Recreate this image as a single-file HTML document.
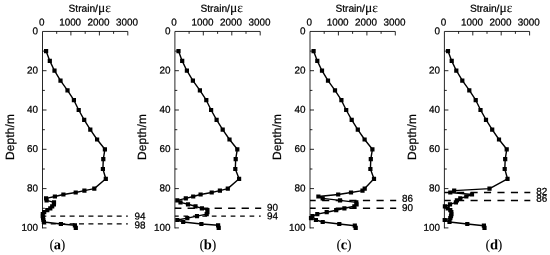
<!DOCTYPE html><html><head><meta charset="utf-8"><title>Strain vs Depth</title><style>
html,body{margin:0;padding:0;background:#fff}svg{display:block}
text{font-family:"Liberation Sans",Arial,sans-serif;fill:#000;text-rendering:geometricPrecision;stroke:#000;stroke-width:0.25px}
.t{font-size:9.9px}.ser{font-family:"Liberation Serif","Times New Roman",serif;stroke:none}
</style></head><body>
<svg width="550" height="255" viewBox="0 0 550 255">
<rect width="550" height="255" fill="#fff"/>
<g id="panel-a">
<line x1="42.50" y1="216.11" x2="127.80" y2="216.11" stroke="#000" stroke-width="1.3" stroke-dasharray="5.0 4.42" stroke-dashoffset="1.18"/>
<text class="t" transform="translate(134.50 219.51) rotate(0.2)">94</text>
<line x1="42.50" y1="223.97" x2="127.80" y2="223.97" stroke="#000" stroke-width="1.3" stroke-dasharray="5.0 4.42" stroke-dashoffset="1.18"/>
<text class="t" transform="translate(134.50 228.37) rotate(0.2)">98</text>
<path d="M42.5 228.4V31.45H127.8" fill="none" stroke="#000" stroke-width="0.85"/>
<path d="M56.7 31.45v2.4M70.9 31.45v4.0M85.2 31.45v2.4M99.4 31.45v4.0M113.6 31.45v2.4M127.8 31.45v4.0M42.5 51.1h2.4M42.5 70.7h4.0M42.5 90.4h2.4M42.5 110.0h4.0M42.5 129.7h2.4M42.5 149.3h4.0M42.5 169.0h2.4M42.5 188.6h4.0M42.5 208.3h2.4M42.5 227.9h4.0" fill="none" stroke="#000" stroke-width="0.85"/>
<text class="t" transform="translate(41.70 25.5) rotate(0.2)" text-anchor="middle">0</text>
<text class="t" transform="translate(70.13 25.5) rotate(0.2)" text-anchor="middle">1000</text>
<text class="t" transform="translate(98.57 25.5) rotate(0.2)" text-anchor="middle">2000</text>
<text class="t" transform="translate(127.00 25.5) rotate(0.2)" text-anchor="middle">3000</text>
<text class="t" transform="translate(38.10 34.25) rotate(0.2)" text-anchor="end">0</text>
<text class="t" transform="translate(38.10 73.54) rotate(0.2)" text-anchor="end">20</text>
<text class="t" transform="translate(38.10 112.83) rotate(0.2)" text-anchor="end">40</text>
<text class="t" transform="translate(38.10 152.12) rotate(0.2)" text-anchor="end">60</text>
<text class="t" transform="translate(38.10 191.41) rotate(0.2)" text-anchor="end">80</text>
<text class="t" transform="translate(38.10 230.70) rotate(0.2)" text-anchor="end">100</text>
<text transform="translate(68.50 11.8) rotate(0.2)" style="font-size:10.2px">Strain/<tspan class="ser" dx="0.1" style="font-size:13.6px;stroke:#000;stroke-width:0.15px">μ</tspan><tspan class="ser" dx="-0.1" style="font-size:13.3px;stroke:#000;stroke-width:0.1px">ε</tspan></text>
<text transform="translate(13.8 160.0) rotate(-90)" style="font-size:11.9px;letter-spacing:0.15px">Depth/m</text>
<polyline points="46.1,51.1 49.8,60.9 54.5,70.7 60.5,80.6 67.5,90.4 73.9,100.2 78.7,110.0 84.2,119.9 90.3,129.7 97.1,139.5 104.9,149.3 103.3,159.1 102.9,169.0 105.8,178.8 94.3,188.6 84.4,190.6 75.7,192.5 63.4,194.5 54.9,196.5 46.1,198.4 46.6,200.4 54.0,202.4 53.9,204.3 52.2,206.3 50.3,208.3 47.3,210.2 44.2,212.2 42.8,214.1 42.7,216.1 43.1,218.1 43.4,220.0 43.9,222.0 60.9,224.0 74.9,225.3 75.8,227.8" fill="none" stroke="#000" stroke-width="1.4" stroke-linejoin="round"/>
<path d="M44.0 49.0h4.2v4.2h-4.2zM47.7 58.8h4.2v4.2h-4.2zM52.4 68.6h4.2v4.2h-4.2zM58.4 78.5h4.2v4.2h-4.2zM65.4 88.3h4.2v4.2h-4.2zM71.8 98.1h4.2v4.2h-4.2zM76.6 107.9h4.2v4.2h-4.2zM82.1 117.8h4.2v4.2h-4.2zM88.2 127.6h4.2v4.2h-4.2zM95.0 137.4h4.2v4.2h-4.2zM102.8 147.2h4.2v4.2h-4.2zM101.2 157.0h4.2v4.2h-4.2zM100.8 166.9h4.2v4.2h-4.2zM103.7 176.7h4.2v4.2h-4.2zM92.2 186.5h4.2v4.2h-4.2zM82.3 188.5h4.2v4.2h-4.2zM73.6 190.4h4.2v4.2h-4.2zM61.3 192.4h4.2v4.2h-4.2zM52.8 194.4h4.2v4.2h-4.2zM44.0 196.3h4.2v4.2h-4.2zM44.5 198.3h4.2v4.2h-4.2zM51.9 200.3h4.2v4.2h-4.2zM51.8 202.2h4.2v4.2h-4.2zM50.1 204.2h4.2v4.2h-4.2zM48.2 206.2h4.2v4.2h-4.2zM45.2 208.1h4.2v4.2h-4.2zM42.1 210.1h4.2v4.2h-4.2zM40.7 212.0h4.2v4.2h-4.2zM40.6 214.0h4.2v4.2h-4.2zM41.0 216.0h4.2v4.2h-4.2zM41.3 217.9h4.2v4.2h-4.2zM41.8 219.9h4.2v4.2h-4.2zM58.8 221.9h4.2v4.2h-4.2zM72.8 223.2h4.2v4.2h-4.2zM73.7 225.7h4.2v4.2h-4.2z" fill="#000"/>
<text class="ser" transform="translate(57.20 249.2) rotate(0.2)" text-anchor="middle" style="font-size:14.5px;letter-spacing:-0.5px">(<tspan font-weight="bold">a</tspan>)</text>
</g>
<g id="panel-b">
<line x1="174.90" y1="208.25" x2="261.20" y2="208.25" stroke="#000" stroke-width="1.5" stroke-dasharray="7.3 6.20" stroke-dashoffset="0.80"/>
<text class="t" transform="translate(266.90 210.75) rotate(0.2)">90</text>
<line x1="174.90" y1="216.11" x2="260.70" y2="216.11" stroke="#000" stroke-width="1.3" stroke-dasharray="4.7 4.74" stroke-dashoffset="0.86"/>
<text class="t" transform="translate(266.90 219.31) rotate(0.2)">94</text>
<path d="M174.9 228.4V31.45H260.2" fill="none" stroke="#000" stroke-width="0.85"/>
<path d="M189.1 31.45v2.4M203.3 31.45v4.0M217.6 31.45v2.4M231.8 31.45v4.0M246.0 31.45v2.4M260.2 31.45v4.0M174.9 51.1h2.4M174.9 70.7h4.0M174.9 90.4h2.4M174.9 110.0h4.0M174.9 129.7h2.4M174.9 149.3h4.0M174.9 169.0h2.4M174.9 188.6h4.0M174.9 208.3h2.4M174.9 227.9h4.0" fill="none" stroke="#000" stroke-width="0.85"/>
<text class="t" transform="translate(174.10 25.5) rotate(0.2)" text-anchor="middle">0</text>
<text class="t" transform="translate(202.53 25.5) rotate(0.2)" text-anchor="middle">1000</text>
<text class="t" transform="translate(230.97 25.5) rotate(0.2)" text-anchor="middle">2000</text>
<text class="t" transform="translate(259.40 25.5) rotate(0.2)" text-anchor="middle">3000</text>
<text class="t" transform="translate(170.50 34.25) rotate(0.2)" text-anchor="end">0</text>
<text class="t" transform="translate(170.50 73.54) rotate(0.2)" text-anchor="end">20</text>
<text class="t" transform="translate(170.50 112.83) rotate(0.2)" text-anchor="end">40</text>
<text class="t" transform="translate(170.50 152.12) rotate(0.2)" text-anchor="end">60</text>
<text class="t" transform="translate(170.50 191.41) rotate(0.2)" text-anchor="end">80</text>
<text class="t" transform="translate(170.50 230.70) rotate(0.2)" text-anchor="end">100</text>
<text transform="translate(200.45 11.8) rotate(0.2)" style="font-size:10.2px">Strain/<tspan class="ser" dx="0.1" style="font-size:13.6px;stroke:#000;stroke-width:0.15px">μ</tspan><tspan class="ser" dx="-0.1" style="font-size:13.3px;stroke:#000;stroke-width:0.1px">ε</tspan></text>
<text transform="translate(146.2 160.0) rotate(-90)" style="font-size:11.9px;letter-spacing:0.15px">Depth/m</text>
<polyline points="178.5,51.1 182.2,60.9 186.9,70.7 192.9,80.6 199.9,90.4 206.3,100.2 211.1,110.0 216.6,119.9 222.7,129.7 229.5,139.5 237.3,149.3 235.7,159.1 235.3,169.0 239.1,178.8 227.8,188.6 219.9,190.6 211.7,192.5 200.6,194.5 193.2,196.5 185.8,198.4 177.3,200.4 180.5,202.4 188.0,204.3 195.5,206.3 201.9,208.3 207.4,210.2 207.4,212.2 206.7,214.1 197.0,216.1 187.3,218.1 177.3,220.0 183.2,222.0 201.4,224.0 218.1,225.3 218.7,227.8" fill="none" stroke="#000" stroke-width="1.4" stroke-linejoin="round"/>
<path d="M176.4 49.0h4.2v4.2h-4.2zM180.1 58.8h4.2v4.2h-4.2zM184.8 68.6h4.2v4.2h-4.2zM190.8 78.5h4.2v4.2h-4.2zM197.8 88.3h4.2v4.2h-4.2zM204.2 98.1h4.2v4.2h-4.2zM209.0 107.9h4.2v4.2h-4.2zM214.5 117.8h4.2v4.2h-4.2zM220.6 127.6h4.2v4.2h-4.2zM227.4 137.4h4.2v4.2h-4.2zM235.2 147.2h4.2v4.2h-4.2zM233.6 157.0h4.2v4.2h-4.2zM233.2 166.9h4.2v4.2h-4.2zM237.0 176.7h4.2v4.2h-4.2zM225.7 186.5h4.2v4.2h-4.2zM217.8 188.5h4.2v4.2h-4.2zM209.6 190.4h4.2v4.2h-4.2zM198.5 192.4h4.2v4.2h-4.2zM191.1 194.4h4.2v4.2h-4.2zM183.7 196.3h4.2v4.2h-4.2zM175.2 198.3h4.2v4.2h-4.2zM178.4 200.3h4.2v4.2h-4.2zM185.9 202.2h4.2v4.2h-4.2zM193.4 204.2h4.2v4.2h-4.2zM199.8 206.2h4.2v4.2h-4.2zM205.3 208.1h4.2v4.2h-4.2zM205.3 210.1h4.2v4.2h-4.2zM204.6 212.0h4.2v4.2h-4.2zM194.9 214.0h4.2v4.2h-4.2zM185.2 216.0h4.2v4.2h-4.2zM175.2 217.9h4.2v4.2h-4.2zM181.1 219.9h4.2v4.2h-4.2zM199.3 221.9h4.2v4.2h-4.2zM216.0 223.2h4.2v4.2h-4.2zM216.6 225.7h4.2v4.2h-4.2z" fill="#000"/>
<text class="ser" transform="translate(207.60 249.2) rotate(0.2)" text-anchor="middle" style="font-size:14.5px;letter-spacing:-0.5px">(<tspan font-weight="bold">b</tspan>)</text>
</g>
<g id="panel-c">
<line x1="310.00" y1="200.40" x2="396.20" y2="200.40" stroke="#000" stroke-width="1.5" stroke-dasharray="7.2 6.40" stroke-dashoffset="1.50"/>
<text class="t" transform="translate(402.00 201.70) rotate(0.2)">86</text>
<line x1="310.00" y1="208.25" x2="396.20" y2="208.25" stroke="#000" stroke-width="1.5" stroke-dasharray="7.2 6.40" stroke-dashoffset="1.50"/>
<text class="t" transform="translate(402.00 210.95) rotate(0.2)">90</text>
<path d="M310.0 228.4V31.45H395.3" fill="none" stroke="#000" stroke-width="0.85"/>
<path d="M324.2 31.45v2.4M338.4 31.45v4.0M352.6 31.45v2.4M366.9 31.45v4.0M381.1 31.45v2.4M395.3 31.45v4.0M310.0 51.1h2.4M310.0 70.7h4.0M310.0 90.4h2.4M310.0 110.0h4.0M310.0 129.7h2.4M310.0 149.3h4.0M310.0 169.0h2.4M310.0 188.6h4.0M310.0 208.3h2.4M310.0 227.9h4.0" fill="none" stroke="#000" stroke-width="0.85"/>
<text class="t" transform="translate(309.20 25.5) rotate(0.2)" text-anchor="middle">0</text>
<text class="t" transform="translate(337.63 25.5) rotate(0.2)" text-anchor="middle">1000</text>
<text class="t" transform="translate(366.07 25.5) rotate(0.2)" text-anchor="middle">2000</text>
<text class="t" transform="translate(394.50 25.5) rotate(0.2)" text-anchor="middle">3000</text>
<text class="t" transform="translate(305.60 34.25) rotate(0.2)" text-anchor="end">0</text>
<text class="t" transform="translate(305.60 73.54) rotate(0.2)" text-anchor="end">20</text>
<text class="t" transform="translate(305.60 112.83) rotate(0.2)" text-anchor="end">40</text>
<text class="t" transform="translate(305.60 152.12) rotate(0.2)" text-anchor="end">60</text>
<text class="t" transform="translate(305.60 191.41) rotate(0.2)" text-anchor="end">80</text>
<text class="t" transform="translate(305.60 230.70) rotate(0.2)" text-anchor="end">100</text>
<text transform="translate(335.40 11.8) rotate(0.2)" style="font-size:10.2px">Strain/<tspan class="ser" dx="0.1" style="font-size:13.6px;stroke:#000;stroke-width:0.15px">μ</tspan><tspan class="ser" dx="-0.1" style="font-size:13.3px;stroke:#000;stroke-width:0.1px">ε</tspan></text>
<text transform="translate(281.3 160.0) rotate(-90)" style="font-size:11.9px;letter-spacing:0.15px">Depth/m</text>
<polyline points="313.6,51.1 317.3,60.9 322.0,70.7 328.0,80.6 335.0,90.4 341.4,100.2 346.2,110.0 351.7,119.9 357.8,129.7 364.6,139.5 372.4,149.3 370.8,159.1 370.4,169.0 374.0,178.8 364.7,188.6 362.5,190.6 351.0,192.5 338.2,194.5 318.4,196.5 322.7,198.4 340.0,200.4 356.3,202.4 356.6,204.3 354.4,206.3 344.4,208.3 336.2,210.2 326.7,212.2 317.3,214.1 312.4,216.1 311.0,218.1 315.9,220.0 322.7,222.0 339.3,224.0 354.8,225.7 355.7,227.9" fill="none" stroke="#000" stroke-width="1.4" stroke-linejoin="round"/>
<path d="M311.5 49.0h4.2v4.2h-4.2zM315.2 58.8h4.2v4.2h-4.2zM319.9 68.6h4.2v4.2h-4.2zM325.9 78.5h4.2v4.2h-4.2zM332.9 88.3h4.2v4.2h-4.2zM339.3 98.1h4.2v4.2h-4.2zM344.1 107.9h4.2v4.2h-4.2zM349.6 117.8h4.2v4.2h-4.2zM355.7 127.6h4.2v4.2h-4.2zM362.5 137.4h4.2v4.2h-4.2zM370.3 147.2h4.2v4.2h-4.2zM368.7 157.0h4.2v4.2h-4.2zM368.3 166.9h4.2v4.2h-4.2zM371.9 176.7h4.2v4.2h-4.2zM362.6 186.5h4.2v4.2h-4.2zM360.4 188.5h4.2v4.2h-4.2zM348.9 190.4h4.2v4.2h-4.2zM336.1 192.4h4.2v4.2h-4.2zM316.3 194.4h4.2v4.2h-4.2zM320.6 196.3h4.2v4.2h-4.2zM337.9 198.3h4.2v4.2h-4.2zM354.2 200.3h4.2v4.2h-4.2zM354.5 202.2h4.2v4.2h-4.2zM352.3 204.2h4.2v4.2h-4.2zM342.3 206.2h4.2v4.2h-4.2zM334.1 208.1h4.2v4.2h-4.2zM324.6 210.1h4.2v4.2h-4.2zM315.2 212.0h4.2v4.2h-4.2zM310.3 214.0h4.2v4.2h-4.2zM308.9 216.0h4.2v4.2h-4.2zM313.8 217.9h4.2v4.2h-4.2zM320.6 219.9h4.2v4.2h-4.2zM337.2 221.9h4.2v4.2h-4.2zM352.7 223.6h4.2v4.2h-4.2zM353.6 225.8h4.2v4.2h-4.2z" fill="#000"/>
<text class="ser" transform="translate(343.80 249.2) rotate(0.2)" text-anchor="middle" style="font-size:14.5px;letter-spacing:-0.5px">(<tspan font-weight="bold">c</tspan>)</text>
</g>
<g id="panel-d">
<line x1="444.35" y1="192.54" x2="530.30" y2="192.54" stroke="#000" stroke-width="1.5" stroke-dasharray="7.1 6.35" stroke-dashoffset="0.70"/>
<text class="t" transform="translate(536.35 194.84) rotate(0.2)">82</text>
<line x1="444.35" y1="200.40" x2="530.30" y2="200.40" stroke="#000" stroke-width="1.5" stroke-dasharray="7.1 6.35" stroke-dashoffset="0.70"/>
<text class="t" transform="translate(536.35 201.80) rotate(0.2)">86</text>
<path d="M444.4 228.4V31.45H529.6" fill="none" stroke="#000" stroke-width="0.85"/>
<path d="M458.6 31.45v2.4M472.8 31.45v4.0M487.0 31.45v2.4M501.2 31.45v4.0M515.4 31.45v2.4M529.6 31.45v4.0M444.4 51.1h2.4M444.4 70.7h4.0M444.4 90.4h2.4M444.4 110.0h4.0M444.4 129.7h2.4M444.4 149.3h4.0M444.4 169.0h2.4M444.4 188.6h4.0M444.4 208.3h2.4M444.4 227.9h4.0" fill="none" stroke="#000" stroke-width="0.85"/>
<text class="t" transform="translate(443.55 25.5) rotate(0.2)" text-anchor="middle">0</text>
<text class="t" transform="translate(471.98 25.5) rotate(0.2)" text-anchor="middle">1000</text>
<text class="t" transform="translate(500.42 25.5) rotate(0.2)" text-anchor="middle">2000</text>
<text class="t" transform="translate(528.85 25.5) rotate(0.2)" text-anchor="middle">3000</text>
<text class="t" transform="translate(439.95 34.25) rotate(0.2)" text-anchor="end">0</text>
<text class="t" transform="translate(439.95 73.54) rotate(0.2)" text-anchor="end">20</text>
<text class="t" transform="translate(439.95 112.83) rotate(0.2)" text-anchor="end">40</text>
<text class="t" transform="translate(439.95 152.12) rotate(0.2)" text-anchor="end">60</text>
<text class="t" transform="translate(439.95 191.41) rotate(0.2)" text-anchor="end">80</text>
<text class="t" transform="translate(439.95 230.70) rotate(0.2)" text-anchor="end">100</text>
<text transform="translate(469.95 11.8) rotate(0.2)" style="font-size:10.2px">Strain/<tspan class="ser" dx="0.1" style="font-size:13.6px;stroke:#000;stroke-width:0.15px">μ</tspan><tspan class="ser" dx="-0.1" style="font-size:13.3px;stroke:#000;stroke-width:0.1px">ε</tspan></text>
<text transform="translate(415.7 160.0) rotate(-90)" style="font-size:11.9px;letter-spacing:0.15px">Depth/m</text>
<polyline points="448.0,51.1 451.7,60.9 456.4,70.7 462.4,80.6 469.4,90.4 475.8,100.2 480.6,110.0 486.1,119.9 492.2,129.7 499.0,139.5 506.8,149.3 505.2,159.1 504.8,169.0 507.5,178.8 489.6,188.6 454.2,190.6 450.4,192.5 472.0,194.5 466.4,196.5 460.4,198.4 456.9,200.4 455.9,202.4 450.0,204.3 444.9,206.3 447.8,208.3 450.4,210.2 451.4,212.2 451.6,214.1 451.1,216.1 450.4,218.1 444.8,220.0 449.5,222.0 467.4,224.0 483.9,225.7 484.6,227.9" fill="none" stroke="#000" stroke-width="1.4" stroke-linejoin="round"/>
<path d="M445.9 49.0h4.2v4.2h-4.2zM449.6 58.8h4.2v4.2h-4.2zM454.2 68.6h4.2v4.2h-4.2zM460.2 78.5h4.2v4.2h-4.2zM467.2 88.3h4.2v4.2h-4.2zM473.6 98.1h4.2v4.2h-4.2zM478.4 107.9h4.2v4.2h-4.2zM483.9 117.8h4.2v4.2h-4.2zM490.1 127.6h4.2v4.2h-4.2zM496.9 137.4h4.2v4.2h-4.2zM504.6 147.2h4.2v4.2h-4.2zM503.1 157.0h4.2v4.2h-4.2zM502.6 166.9h4.2v4.2h-4.2zM505.4 176.7h4.2v4.2h-4.2zM487.4 186.5h4.2v4.2h-4.2zM452.1 188.5h4.2v4.2h-4.2zM448.2 190.4h4.2v4.2h-4.2zM469.9 192.4h4.2v4.2h-4.2zM464.2 194.4h4.2v4.2h-4.2zM458.2 196.3h4.2v4.2h-4.2zM454.8 198.3h4.2v4.2h-4.2zM453.8 200.3h4.2v4.2h-4.2zM447.9 202.2h4.2v4.2h-4.2zM442.8 204.2h4.2v4.2h-4.2zM445.6 206.2h4.2v4.2h-4.2zM448.2 208.1h4.2v4.2h-4.2zM449.2 210.1h4.2v4.2h-4.2zM449.4 212.0h4.2v4.2h-4.2zM448.9 214.0h4.2v4.2h-4.2zM448.2 216.0h4.2v4.2h-4.2zM442.6 217.9h4.2v4.2h-4.2zM447.4 219.9h4.2v4.2h-4.2zM465.2 221.9h4.2v4.2h-4.2zM481.8 223.6h4.2v4.2h-4.2zM482.4 225.8h4.2v4.2h-4.2z" fill="#000"/>
<text class="ser" transform="translate(493.70 249.2) rotate(0.2)" text-anchor="middle" style="font-size:14.5px;letter-spacing:-0.5px">(<tspan font-weight="bold">d</tspan>)</text>
</g>
</svg></body></html>
